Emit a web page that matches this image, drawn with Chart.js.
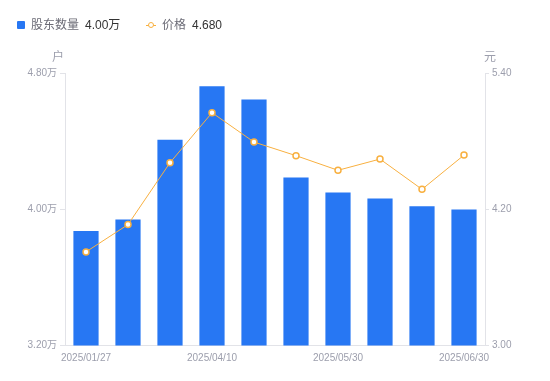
<!DOCTYPE html>
<html>
<head>
<meta charset="utf-8">
<script src="https://cdn.jsdelivr.net/npm/chart.js@4/dist/chart.umd.min.js"></script>
<style>
  html, body { margin: 0; padding: 0; background: #fff; }
  #wrap { position: relative; width: 550px; height: 381px; font-family: "Liberation Sans", "Noto Sans CJK SC", sans-serif; }
  canvas { position: absolute; left: 0; top: 0; }
  .lg { position: absolute; top: 17px; height: 16px; line-height: 16px; font-size: 12px; white-space: nowrap; }
  .lg .name { color: #6b6b76; }
  .lg .val { color: #333; margin-left: 6px; }
  .sq { position: absolute; left: 17px; top: 21px; width: 8px; height: 8px; background: #2777f3; border-radius: 1px; }
  .ln { position: absolute; left: 146px; top: 24.5px; width: 10px; height: 1px; background: #f8b040; }
  .dot { position: absolute; left: 147.5px; top: 21.5px; width: 4px; height: 4px; border: 1.5px solid #f8b040; border-radius: 50%; background: #fff; }
</style>
</head>
<body>
<div id="wrap">
  <canvas id="c" width="550" height="381"></canvas>
  <div class="sq"></div>
  <div class="lg" style="left:31px"><span class="name">股东数量</span><span class="val" id="v1"></span></div>
  <div class="ln"></div><div class="dot"></div>
  <div class="lg" style="left:162px"><span class="name">价格</span><span class="val" id="v2"></span></div>
</div>
<script>
// ---- data ----
const categories = ['2025/01/27','2025/02/20','2025/03/20','2025/04/10','2025/04/20','2025/04/30','2025/05/30','2025/06/10','2025/06/20','2025/06/30'];
const holders = [3.874, 3.941, 4.411, 4.725, 4.647, 4.188, 4.100, 4.064, 4.019, 4.00];   // 万户
const price = [3.826, 4.067, 4.613, 5.054, 4.795, 4.675, 4.546, 4.645, 4.378, 4.68];      // 元
const xTickIndex = [0, 3, 6, 9];
const leftTicks = [3.2, 4.0, 4.8];
const rightTicks = [3.0, 4.2, 5.4];
const holderName = '股东数量';
const priceName = '价格';
const leftUnit = '户';
const rightUnit = '元';

document.getElementById('v1').textContent = holders[holders.length - 1].toFixed(2) + '万';
document.getElementById('v2').textContent = price[price.length - 1].toFixed(3);

const FONT = '"Liberation Sans", "Noto Sans CJK SC", sans-serif';
const AXIS = '#e2e3e8';
const TICK = '#9c9eac';

const unitPlugin = {
  id: 'units',
  afterDraw(chart) {
    const ctx = chart.ctx, a = chart.chartArea;
    ctx.save();
    ctx.font = '12px ' + FONT;
    ctx.fillStyle = TICK;
    ctx.textBaseline = 'middle';
    ctx.textAlign = 'center';
    ctx.fillText(leftUnit, a.left - 7, a.top - 16);
    ctx.fillText(rightUnit, a.right + 5, a.top - 16);
    ctx.restore();
  }
};

new Chart(document.getElementById('c'), {
  data: {
    labels: categories,
    datasets: [
      {
        type: 'line', label: priceName, data: price, yAxisID: 'yR', order: 0,
        borderColor: '#f8b040', borderWidth: 1, pointRadius: 3, pointBorderWidth: 1.5,
        pointBackgroundColor: '#fff', pointBorderColor: '#f8b040', tension: 0
      },
      {
        type: 'bar', label: holderName, data: holders, yAxisID: 'yL', order: 1,
        backgroundColor: '#2777f3', borderWidth: 0, barPercentage: 0.6, categoryPercentage: 1
      }
    ]
  },
  options: {
    responsive: false, animation: false, devicePixelRatio: 1,
    layout: { padding: { top: 73.5, left: 0, right: 0, bottom: 0 } },
    plugins: { legend: { display: false }, tooltip: { enabled: false } },
    scales: {
      x: {
        type: 'category', offset: true,
        grid: { display: false, drawTicks: false },
        border: { display: true, color: AXIS, width: 1 },
        ticks: {
          autoSkip: false, maxRotation: 0, padding: 6.5, color: TICK,
          font: { size: 10, family: FONT },
          callback: (v, i) => xTickIndex.includes(i) ? categories[i] : ''
        },
        afterFit: s => { s.height = 35.5; }
      },
      yL: {
        position: 'left', min: leftTicks[0], max: leftTicks[leftTicks.length - 1],
        afterBuildTicks: s => { s.ticks = leftTicks.map(v => ({ value: v })); },
        grid: { display: true, drawOnChartArea: false, drawTicks: true, tickLength: 5, color: AXIS },
        border: { display: true, color: AXIS },
        ticks: { padding: 3, color: TICK, font: { size: 10, family: FONT }, callback: v => v.toFixed(2) + '万' },
        afterFit: s => { s.width = 65; }
      },
      yR: {
        position: 'right', min: rightTicks[0], max: rightTicks[rightTicks.length - 1],
        afterBuildTicks: s => { s.ticks = rightTicks.map(v => ({ value: v })); },
        grid: { display: true, drawOnChartArea: false, drawTicks: true, tickLength: 4, color: AXIS },
        border: { display: true, color: AXIS },
        ticks: { padding: 3, color: TICK, font: { size: 10, family: FONT }, callback: v => v.toFixed(2) },
        afterFit: s => { s.width = 65; }
      }
    }
  },
  plugins: [unitPlugin]
});
</script>
</body>
</html>
